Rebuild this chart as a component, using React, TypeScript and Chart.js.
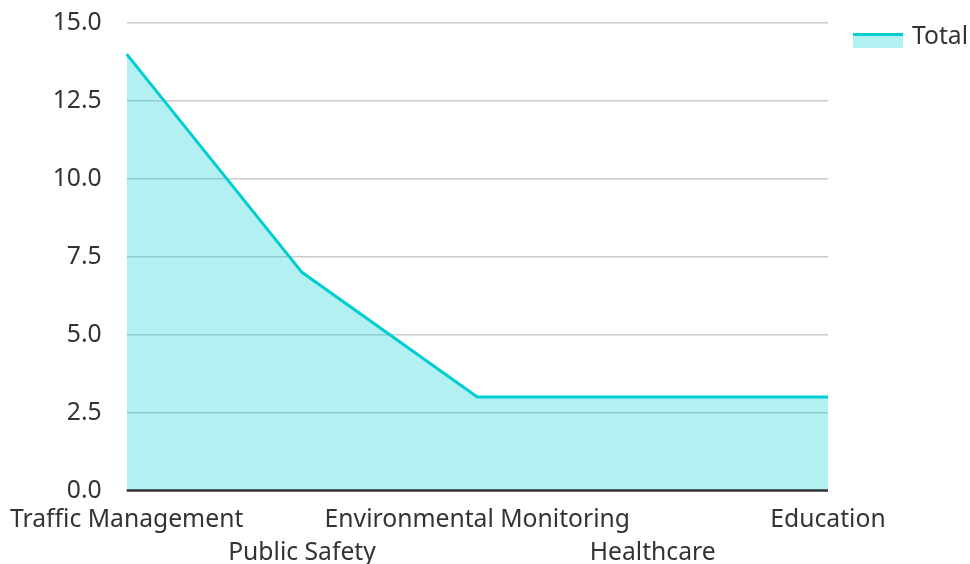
import React, { useEffect, useRef } from "react";
import { Chart, registerables } from "chart.js";

Chart.register(...registerables);

const categories: string[] = [
  "Traffic Management",
  "Public Safety",
  "Environmental Monitoring",
  "Healthcare",
  "Education",
];
const totalValues: number[] = [14, 7, 3, 3, 3];
const seriesName = "Total";
const lineColor = "#00CED1";
const fillColor = "rgba(0, 206, 209, 0.3)";
const FONT = "'Noto Sans', 'Open Sans', sans-serif";
const FS = 24.7;

const legendPlugin = {
  id: "customLegend",
  afterDatasetsDraw(chart: any) {
    const area = chart.chartArea;
    const ctx = chart.ctx;
    const y0 = chart.scales.y.getPixelForValue(0);
    ctx.save();
    ctx.strokeStyle = "#333";
    ctx.lineWidth = 2.5;
    ctx.beginPath();
    ctx.moveTo(area.left, y0);
    ctx.lineTo(area.right, y0);
    ctx.stroke();
    ctx.restore();
  },
  afterDraw(chart: any) {
    const area = chart.chartArea;
    const ctx = chart.ctx;
    const x = area.right + 25;
    const y = area.top + 10;
    const w = 50;
    const h = 15;
    ctx.save();
    ctx.fillStyle = fillColor;
    ctx.fillRect(x, y, w, h);
    ctx.fillStyle = lineColor;
    ctx.fillRect(x, y, w, 3);
    ctx.fillStyle = "#333";
    ctx.font = `${FS}px ${FONT}`;
    ctx.textAlign = "left";
    ctx.textBaseline = "middle";
    ctx.fillText(seriesName, x + w + 9, y + 4);
    ctx.restore();
  },
};

export default function App() {
  const ref = useRef<HTMLCanvasElement | null>(null);
  useEffect(() => {
    if (!ref.current) return;
    const labels = categories.map((c, i) => (i % 2 === 0 ? [c] : ["", c]));
    const chart = new Chart(ref.current, {
      type: "line",
      data: {
        labels,
        datasets: [
          {
            label: seriesName,
            data: totalValues,
            borderColor: lineColor,
            backgroundColor: fillColor,
            borderWidth: 3,
            fill: "origin",
            pointRadius: 0,
            tension: 0,
          },
        ],
      },
      plugins: [legendPlugin],
      options: {
        animation: false,
        responsive: false,
        layout: { padding: { left: 7, top: 0, right: 142, bottom: 0 } },
        plugins: {
          tooltip: { enabled: false },
          legend: { display: false },
        },
        scales: {
          x: {
            offset: false,
            afterFit: (scale: any) => {
              scale.height -= 18.5;
              scale.paddingLeft -= 3;
            },
            grid: { display: false, drawTicks: false },
            border: { display: false },
            ticks: {
              autoSkip: false,
              maxRotation: 0,
              minRotation: 0,
              color: "#333",
              padding: 13,
              font: { family: FONT, size: FS, lineHeight: 33 / FS },
            },
          },
          y: {
            min: 0,
            max: 15,
            afterFit: (scale: any) => {
              scale.paddingTop = 23;
              scale.paddingBottom = 0;
            },
            grid: {
              color: (c: any) => (c.tick && c.tick.value === 0 ? "rgba(0,0,0,0)" : "#cccccc"),
              lineWidth: 1.5,
              drawTicks: false,
            },
            border: { display: false },
            ticks: {
              stepSize: 2.5,
              color: "#333",
              padding: 25,
              font: { family: FONT, size: FS },
              callback: (v: any) => Number(v).toFixed(1),
            },
          },
        },
      },
    });
    return () => chart.destroy();
  }, []);
  return (
    <div style={{ position: "fixed", left: 0, top: 0, width: 970, height: 564 }}>
      <canvas ref={ref} width={970} height={564} />
    </div>
  );
}
